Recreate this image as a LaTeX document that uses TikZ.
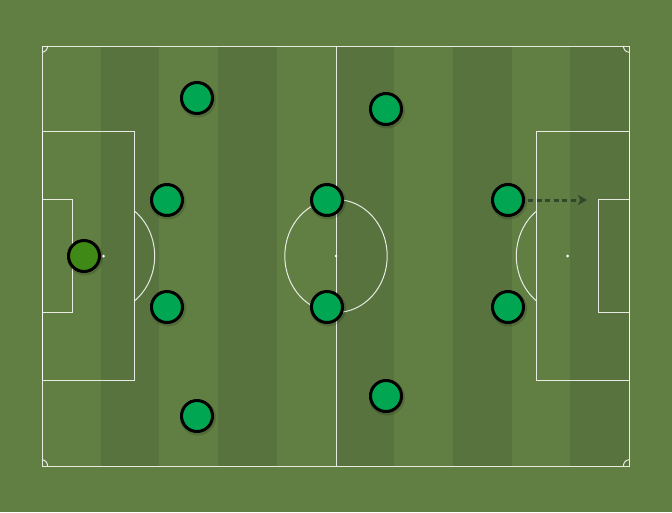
\documentclass[tikz,border=0pt]{standalone}
\usetikzlibrary{arrows.meta}
\definecolor{bg}{HTML}{627F43}
\definecolor{darkstripe}{HTML}{58733E}
\definecolor{playerfill}{HTML}{00A651}
\definecolor{keeperfill}{HTML}{3F8A17}
\definecolor{arrowcol}{HTML}{33472A}
\tikzset{
  pitchline/.style={draw=white, draw opacity=0.85, line width=1pt},
  player/.style={circle, draw=black, line width=3pt, fill=playerfill, minimum size=31pt, inner sep=0pt},
  keeper/.style={player, fill=keeperfill},
  shadowdisc/.style={fill=black, fill opacity=0.15},
  runarrow/.style={draw=arrowcol, line width=3pt, dash pattern=on 5pt off 3.6pt, -{Stealth[length=9pt,width=10pt,inset=2.5pt]}},
}
\begin{document}
\begin{tikzpicture}[x=1pt,y=-1pt]
\useasboundingbox (0,0) rectangle (672,512);
\fill[bg] (0,0) rectangle (672,512);
% stripes
\foreach \i in {0,...,9}{
  \pgfmathsetmacro{\xa}{42+58.7*\i}
  \pgfmathsetmacro{\xb}{42+58.7*(\i+1)}
  \pgfmathtruncatemacro{\odd}{mod(\i,2)}
  \ifnum\odd=1
    \fill[darkstripe] (\xa,46) rectangle (\xb,466);
  \fi
}
% pitch lines
\draw[pitchline] (42,46) rectangle (629,466);
\draw[pitchline] (336,46) -- (336,466);
\draw[pitchline] (336,256) ellipse[x radius=51.2, y radius=56.5];
\fill[white] (336,256) circle[radius=1.3pt];
% left
\draw[pitchline] (42,131.5) rectangle (134.5,380.5);
\draw[pitchline] (42,199.5) rectangle (72.8,312.5);
\fill[white] (103.5,256) circle[radius=1.5pt];
\draw[pitchline] (103.5,256) ++(-52.7:51.2 and 56.5) arc[start angle=-52.7, end angle=52.7, x radius=51.2, y radius=56.5];
% right
\draw[pitchline] (629,131.5) rectangle (536.5,380.5);
\draw[pitchline] (629,199.5) rectangle (598.2,312.5);
\fill[white] (567.5,256) circle[radius=1.5pt];
\draw[pitchline] (567.5,256) ++(127.3:51.2 and 56.5) arc[start angle=127.3, end angle=232.7, x radius=51.2, y radius=56.5];
% corners
\draw[pitchline] (47.6,46) arc[start angle=0, end angle=90, x radius=5.6, y radius=6.2];
\draw[pitchline] (623.4,46) arc[start angle=180, end angle=90, x radius=5.6, y radius=6.2];
\draw[pitchline] (47.6,466) arc[start angle=0, end angle=-90, x radius=5.6, y radius=6.2];
\draw[pitchline] (623.4,466) arc[start angle=180, end angle=270, x radius=5.6, y radius=6.2];
% shadows
\foreach \x/\y in {84/256,197/98,167/200,167/307,197/416,327/200,327/307,386/109,386/396,508/200,508/307}{
  \fill[shadowdisc] (\x+1,\y+1.5) circle[radius=18pt];
}
% players
\node[keeper] (gk) at (84,256) {};
\node[player] (p2) at (197,98) {};
\node[player] (p3) at (167,200) {};
\node[player] (p4) at (167,307) {};
\node[player] (p5) at (197,416) {};
\node[player] (p6) at (327,200) {};
\node[player] (p7) at (327,307) {};
\node[player] (p8) at (386,109) {};
\node[player] (p9) at (386,396) {};
\node[player] (p10) at (508,200) {};
\node[player] (p11) at (508,307) {};
% run arrow
\coordinate (runend) at (587,200);
\draw[runarrow, shorten <=3pt] (p10.east) -- (runend);
\end{tikzpicture}
\end{document}
